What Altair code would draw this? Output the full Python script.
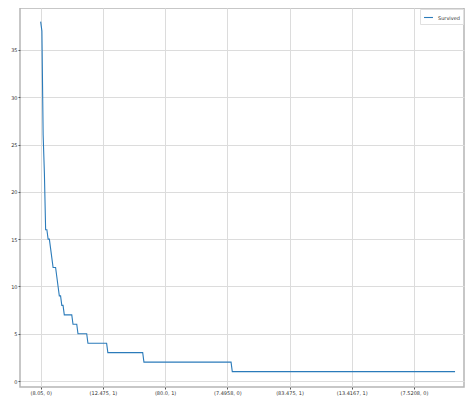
import altair as alt
import pandas as pd

# Count levels (sorted descending) and how many (Fare, Survived) groups have each count
levels = [38, 37, 26, 22, 16, 15, 14, 13, 12, 11, 10, 9, 8, 7, 6, 5, 4, 3, 2, 1]
repeats = [1, 1, 1, 1, 2, 2, 1, 1, 3, 1, 1, 2, 2, 7, 4, 8, 16, 29, 71, 180]

tick_positions = [0, 50, 100, 150, 200, 250, 300]
tick_labels = ["(8.05, 0)", "(12.475, 1)", "(80.0, 1)", "(7.4958, 0)",
               "(83.475, 1)", "(13.4167, 1)", "(7.5208, 0)"]
y_ticks = [0, 5, 10, 15, 20, 25, 30, 35]

counts = []
for lv, r in zip(levels, repeats):
    counts += [lv] * r

df = pd.DataFrame({"rank": list(range(len(counts))), "count": counts, "series": "Survived"})

label_expr = " : ".join(
    f"datum.value == {p} ? '{l}'" for p, l in zip(tick_positions, tick_labels)
) + " : ''"

axis_common = dict(
    title=None, grid=True, gridColor="#dcdcdc", gridWidth=1,
    domain=False, tickSize=2, tickColor="#555555", labelFontSize=5,
    labelFont="DejaVu Sans", labelColor="#333333", labelPadding=1,
)

chart = alt.Chart(df).mark_line(strokeWidth=1.1, color="#2b7bba").encode(
    x=alt.X("rank:Q",
            scale=alt.Scale(domain=[-16.6, 340.2], nice=False, zero=False),
            axis=alt.Axis(values=tick_positions, labelExpr=label_expr, **axis_common)),
    y=alt.Y("count:Q",
            scale=alt.Scale(domain=[-0.63, 39.44], nice=False, zero=False),
            axis=alt.Axis(values=y_ticks, **axis_common)),
    color=alt.Color("series:N", scale=alt.Scale(range=["#2b7bba"]),
                    legend=alt.Legend(orient="none", legendX=400, legendY=1, title=None,
                                      symbolType="stroke", symbolSize=80, symbolStrokeWidth=1.1,
                                      labelFontSize=5, labelFont="DejaVu Sans",
                                      fillColor="white", strokeColor="#e0e0e0",
                                      padding=3, labelColor="#333333")),
).properties(
    width=444, height=379,
    padding={"left": 12, "top": 0, "right": 2, "bottom": 10},
    autosize="none",
).configure_view(stroke="#b5b5b5", strokeWidth=1.5)

chart.save("out.html", embed_options={"renderer": "svg", "actions": False})
